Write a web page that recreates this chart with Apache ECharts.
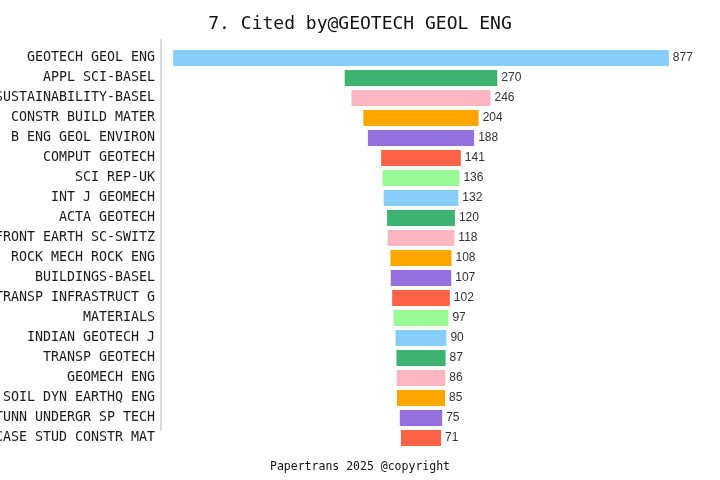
<!DOCTYPE html>
<html>
<head>
<meta charset="UTF-8">
<title></title>
<style>
  html, body { margin: 0; padding: 0; background: #fff; }
  #chart { width: 720px; height: 480px; }
</style>
<script src="https://cdn.jsdelivr.net/npm/echarts@6/dist/echarts.min.js"></script>
</head>
<body>
<div id="chart"></div>
<script>
// journals citing GEOTECH GEOL ENG, top to bottom
var journals = ['GEOTECH GEOL ENG', 'APPL SCI-BASEL', 'SUSTAINABILITY-BASEL', 'CONSTR BUILD MATER',
  'B ENG GEOL ENVIRON', 'COMPUT GEOTECH', 'SCI REP-UK', 'INT J GEOMECH', 'ACTA GEOTECH',
  'FRONT EARTH SC-SWITZ', 'ROCK MECH ROCK ENG', 'BUILDINGS-BASEL', 'TRANSP INFRASTRUCT G',
  'MATERIALS', 'INDIAN GEOTECH J', 'TRANSP GEOTECH', 'GEOMECH ENG', 'SOIL DYN EARTHQ ENG',
  'TUNN UNDERGR SP TECH', 'CASE STUD CONSTR MAT'];
var counts = [877, 270, 246, 204, 188, 141, 136, 132, 120, 118, 108, 107, 102, 97, 90, 87, 86, 85, 75, 71];
var palette = ['#87CEFA', '#3CB371', '#FFB6C1', '#FFA500', '#9370DB', '#FF6347', '#98FB98'];

var xMax = 920;
// transparent bar in front so each bar is centred
var offsets = counts.map(function (v) { return (xMax - v) / 2; });

var chart = echarts.init(document.getElementById('chart'));
var option = {
  animation: false,
  title: [{
    text: '7. Cited by@GEOTECH GEOL ENG',
    left: 'center',
    top: 10,
    textStyle: { fontFamily: 'DejaVu Sans Mono', fontSize: 18, fontWeight: 'normal', color: '#111' }
  }, {
    text: 'Papertrans 2025 @copyright',
    left: 'center',
    top: 456,
    textStyle: { fontFamily: 'DejaVu Sans Mono', fontSize: 11.5, fontWeight: 'normal', color: '#111' }
  }],
  grid: [
    { left: 161, right: 39, top: 48, bottom: 32, outerBoundsMode: 'none', containLabel: false },
    { left: 161, right: 39, top: 40, bottom: 50, outerBoundsMode: 'none', containLabel: false }
  ],
  xAxis: [
    { type: 'value', gridIndex: 0, min: 0, max: xMax, show: false },
    { type: 'value', gridIndex: 1, min: 0, max: xMax, show: false }
  ],
  yAxis: [{
    type: 'category',
    gridIndex: 0,
    data: journals,
    inverse: true,
    axisLine: { show: false },
    axisTick: { show: false },
    axisLabel: { margin: 6, fontFamily: 'DejaVu Sans Mono', fontSize: 13.3, color: '#1a1a1a' }
  }, {
    type: 'category',
    gridIndex: 1,
    data: [],
    axisLine: { show: true, lineStyle: { color: '#d9d9d9', width: 2 } },
    axisTick: { show: false },
    axisLabel: { show: false }
  }],
  series: [{
    type: 'bar',
    stack: 'c',
    data: offsets,
    barCategoryGap: '20%',
    itemStyle: { color: 'transparent' },
    silent: true
  }, {
    type: 'bar',
    stack: 'c',
    data: counts.map(function (v, i) {
      return { value: v, itemStyle: { color: palette[i % palette.length] } };
    }),
    barCategoryGap: '20%',
    label: {
      show: true,
      position: 'right',
      distance: 4,
      fontSize: 12,
      color: '#333'
    }
  }]
};
chart.setOption(option);
</script>
</body>
</html>
